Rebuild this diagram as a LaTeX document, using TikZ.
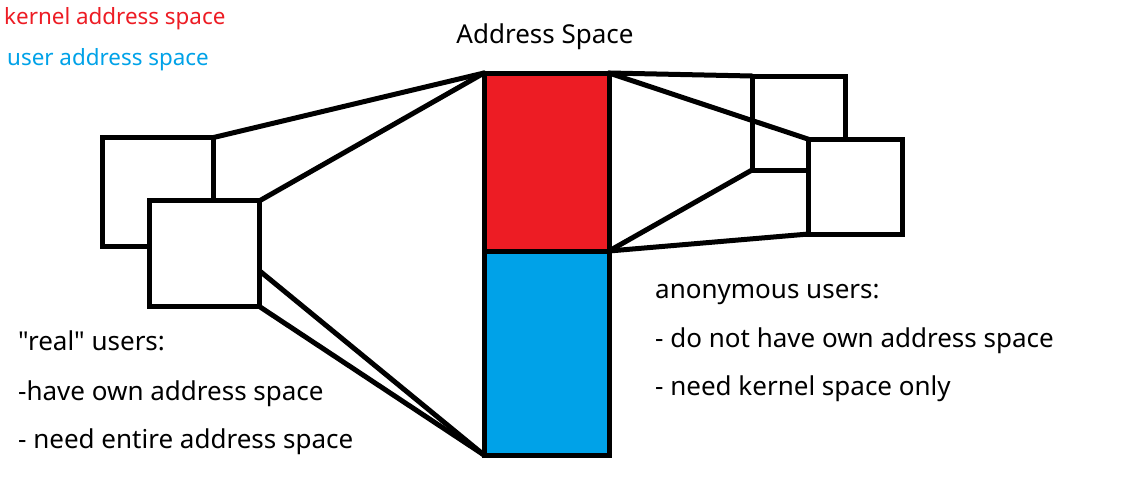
\documentclass[tikz,border=0pt]{standalone}
\usepackage{fontspec}
\setmainfont{Noto Sans}[Ligatures=TeXOff]
\usetikzlibrary{calc}
\definecolor{pred}{HTML}{ED1C24}
\definecolor{pblue}{HTML}{00A2E8}
\begin{document}
\begin{tikzpicture}[x=1pt,y=-1pt,
  thick line/.style={line width=5pt, line cap=round, line join=round},
  box/.style={draw, fill=white, line width=5pt, inner sep=0pt, outer sep=0pt, anchor=north west},
  seg/.style={draw, line width=5pt, inner sep=0pt, outer sep=0pt, anchor=north west, minimum width=125pt},
  txt/.style={font=\fontsize{26}{30}\selectfont, anchor=base west, inner sep=0pt},
  legend/.style={font=\fontsize{22.4}{26}\selectfont, anchor=base west, inner sep=0pt}]
\useasboundingbox (0,0) rectangle (1132,496);
\fill[white] (0,0) rectangle (1132,496);

% legend and title
\node[legend, text=pred] (lk) at (4,24) {kernel address space};
\node[legend, text=pblue] (lu) at (7,65) {user address space};
\node[font=\fontsize{26}{30}\selectfont, anchor=base, inner sep=0pt] (title) at (545,43) {Address Space};

% left boxes
\node[box, minimum width=111pt, minimum height=108.5pt] (lb) at (102.5,137.5) {};
\node[box, minimum width=110pt, minimum height=106pt] (lf) at (149.7,200.7) {};

% right back box
\node[box, minimum width=93pt, minimum height=94pt] (rb) at (752,76) {};

% column corners (the column is drawn later)
\path (484,73) coordinate (ctl) (609,73) coordinate (ctr)
      (484,455) coordinate (cbl) (609,251) coordinate (cmr);

% connectors
\draw[thick line] (lb.north east) -- (ctl);
\draw[thick line] (lf.north east) -- (ctl);
\draw[thick line] ($(lf.north east)!0.663!(lf.south east)$) -- (cbl);
\draw[thick line] (lf.south east) -- (cbl);
\draw[thick line] (ctr) -- (rb.north west);
\draw[thick line] (cmr) -- (rb.south west);

% right front box
\node[box, minimum width=93.3pt, minimum height=94.7pt] (rf) at (808.7,139.3) {};
\draw[thick line] (ctr) -- (rf.north west);
\draw[thick line] (cmr) -- (rf.south west);

% column
\node[seg, fill=pred, minimum height=178pt] (kern) at (ctl) {};
\node[seg, fill=pblue, minimum height=204pt] (user) at (kern.south west) {};

% texts
\node[txt] (r1) at (18,350) {"real" users:};
\node[txt] (r2) at (18,400) {-have own address space};
\node[txt] (r3) at (18,448) {- need entire address space};
\node[txt] (a1) at (655,298) {anonymous users:};
\node[txt] (a2) at (655,347) {- do not have own address space};
\node[txt] (a3) at (655,395) {- need kernel space only};
\end{tikzpicture}
\end{document}
